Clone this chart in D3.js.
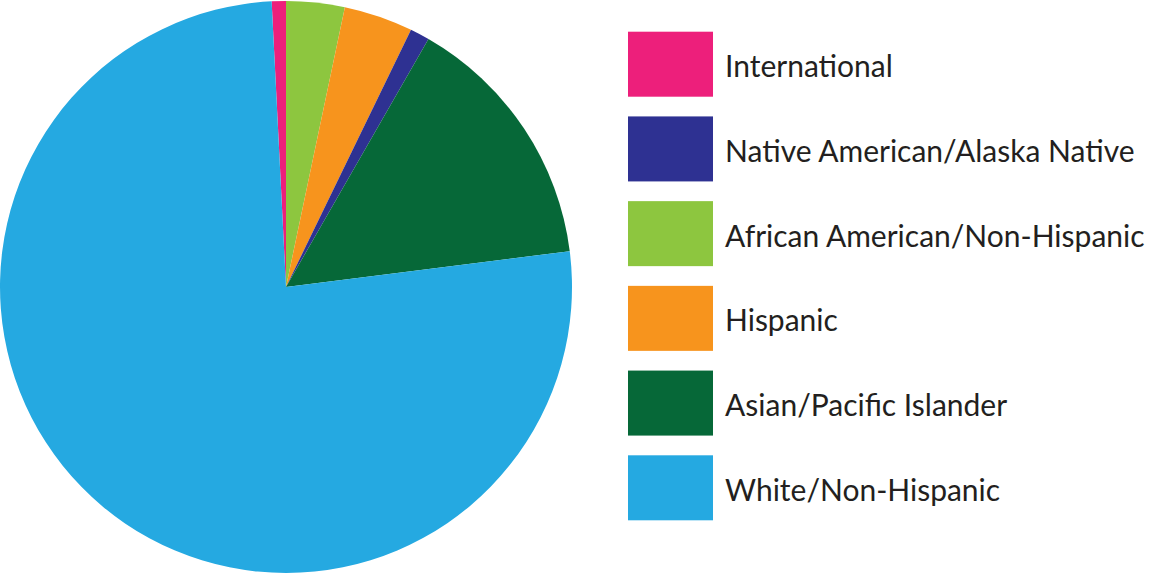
<!DOCTYPE html>
<html>
<head>
<meta charset="utf-8">
<script src="https://cdn.jsdelivr.net/npm/d3@7"></script>
<style>
  html, body { margin: 0; padding: 0; background: #fff; }
  svg { display: block; }
</style>
</head>
<body>
<svg id="chart" width="1153" height="573"></svg>
<script>
// Pie order (clockwise, starting just left of 12 o'clock)
const pieCategories = ["International", "African American/Non-Hispanic", "Hispanic",
                       "Native American/Alaska Native", "Asian/Pacific Islander", "White/Non-Hispanic"];
const pieValues = [0.8, 3.3, 3.9, 1.1, 14.7, 76.2];

// Legend order
const legendCategories = ["International", "Native American/Alaska Native", "African American/Non-Hispanic",
                          "Hispanic", "Asian/Pacific Islander", "White/Non-Hispanic"];

const colorDomain = ["International", "Native American/Alaska Native", "African American/Non-Hispanic",
                     "Hispanic", "Asian/Pacific Islander", "White/Non-Hispanic"];
const colorRange = ["#ED1F7B", "#2E3192", "#8DC63F", "#F7941D", "#066838", "#25A9E1"];

const svg = d3.select("#chart");
const color = d3.scaleOrdinal().domain(colorDomain).range(colorRange);

const cx = 286, cy = 287, radius = 286;
const total = d3.sum(pieValues);
const offset = -(pieValues[0] / total) * 2 * Math.PI;

const pie = d3.pie().sort(null).value(d => d.value)
  .startAngle(offset).endAngle(offset + 2 * Math.PI);
const arc = d3.arc().innerRadius(0).outerRadius(radius);

const data = pieCategories.map((c, i) => ({ name: c, value: pieValues[i] }));

svg.append("g")
  .attr("transform", `translate(${cx},${cy})`)
  .selectAll("path")
  .data(pie(data))
  .join("path")
  .attr("d", arc)
  .attr("fill", d => color(d.data.name));

// Legend
const legendY = d3.scalePoint().domain(legendCategories).range([31.7, 455.3]);
const swW = 85, swH = 65, swX = 628, textX = 725;

const lg = svg.append("g");
const items = lg.selectAll("g").data(legendCategories).join("g")
  .attr("transform", d => `translate(0,${legendY(d)})`);
items.append("rect")
  .attr("x", swX).attr("y", 0).attr("width", swW).attr("height", swH)
  .attr("fill", d => color(d));
items.append("text")
  .attr("x", textX).attr("y", swH / 2 + 13)
  .attr("font-family", "Lato, 'Open Sans', sans-serif")
  .attr("font-size", 30)
  .attr("fill", "#231F20")
  .text(d => d);
</script>
</body>
</html>
